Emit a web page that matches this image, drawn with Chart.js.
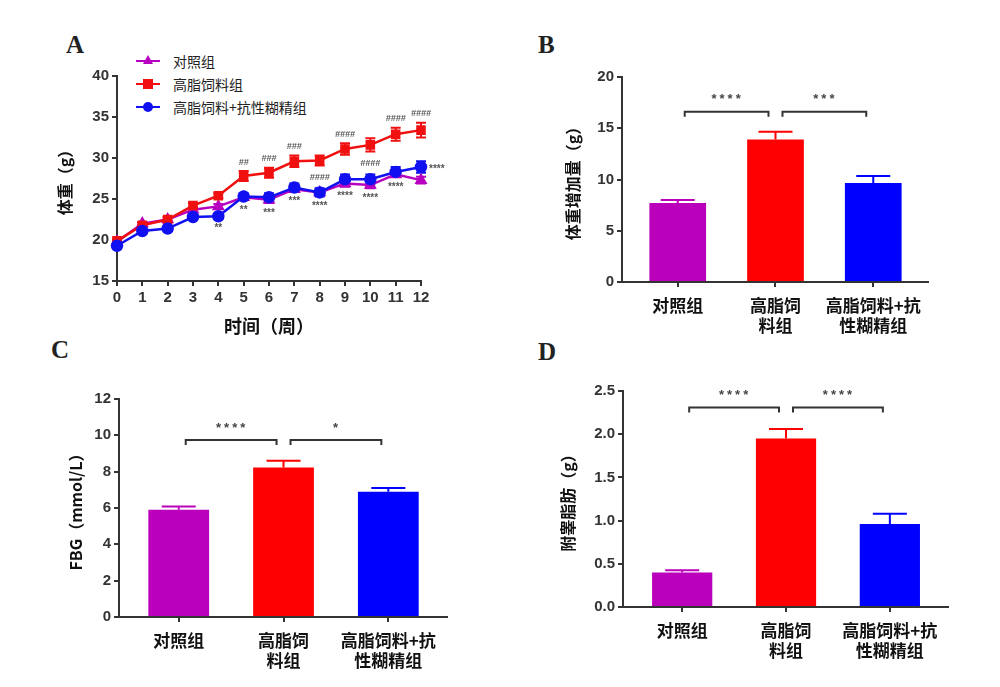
<!DOCTYPE html>
<html>
<head>
<meta charset="utf-8">
<script src="https://cdn.jsdelivr.net/npm/chart.js@4.4.1/dist/chart.umd.min.js"></script>
<style>
body { margin:0; background:#fff; width:1000px; height:687px; position:relative; overflow:hidden; font-family:"Noto Sans CJK SC", sans-serif; }
canvas { position:absolute; }
.letter { position:absolute; font-family:"Liberation Serif", serif; font-weight:bold; font-size:25px; color:#222; line-height:28px; }
.leg { position:absolute; left:136px; height:20px; font-size:14px; color:#222; line-height:20px; }
.leg .ln { position:absolute; left:0; top:9px; width:24px; height:2px; }
.leg .mk { position:absolute; }
.leg .tx { position:absolute; left:37px; top:0; white-space:nowrap; }
</style>
</head>
<body>
<div class="letter" style="left:66px;top:31px">A</div>
<div class="letter" style="left:538px;top:31px">B</div>
<div class="letter" style="left:51px;top:336px">C</div>
<div class="letter" style="left:538px;top:338px">D</div>

<div class="leg" style="top:51px"><span class="ln" style="background:#b800c0"></span><span class="mk" style="left:7px;top:4px;width:0;height:0;border-left:5px solid transparent;border-right:5px solid transparent;border-bottom:9px solid #b800c0"></span><span class="tx">对照组</span></div>
<div class="leg" style="top:74px"><span class="ln" style="background:#f01010"></span><span class="mk" style="left:7px;top:5px;width:10px;height:10px;background:#f01010"></span><span class="tx">高脂饲料组</span></div>
<div class="leg" style="top:97px"><span class="ln" style="background:#1010f0"></span><span class="mk" style="left:7px;top:5px;width:10px;height:10px;border-radius:50%;background:#1010f0"></span><span class="tx">高脂饲料+抗性糊精组</span></div>

<canvas id="chartA" width="420" height="300" style="left:40px;top:40px"></canvas>
<canvas id="chartB" width="420" height="300" style="left:540px;top:50px"></canvas>
<canvas id="chartC" width="420" height="310" style="left:40px;top:370px"></canvas>
<canvas id="chartD" width="420" height="310" style="left:540px;top:370px"></canvas>

<script>
// panel A: body weight by week
const weeks = ['0','1','2','3','4','5','6','7','8','9','10','11','12'];
const controlWeight = [19.8, 22.0, 22.5, 23.7, 24.1, 25.2, 24.9, 26.2, 25.8, 26.9, 26.7, 28.0, 27.3];
const controlErr    = [0.2, 0.2, 0.2, 0.3, 0.3, 0.3, 0.4, 0.3, 0.4, 0.4, 0.4, 0.3, 0.4];
const hfdWeight     = [19.9, 21.8, 22.5, 24.2, 25.4, 27.8, 28.2, 29.6, 29.7, 31.1, 31.6, 32.9, 33.4];
const hfdErr        = [0.2, 0.3, 0.3, 0.3, 0.3, 0.6, 0.6, 0.7, 0.6, 0.7, 0.8, 0.8, 0.9];
const rsWeight      = [19.3, 21.1, 21.4, 22.8, 22.9, 25.3, 25.2, 26.4, 25.8, 27.4, 27.4, 28.3, 28.9];
const rsErr         = [0.3, 0.3, 0.2, 0.3, 0.3, 0.4, 0.5, 0.5, 0.5, 0.6, 0.6, 0.6, 0.7];

// significance marks in panel A
const hashWeeks = [5, 6, 7, 9, 11, 12];
const hashLabels = ['##', '###', '###', '####', '####', '####'];
const hashBlueWeeks = [8, 10];
const hashBlueLabels = ['####', '####'];
const starWeeks = [4, 5, 6, 7, 8, 9, 10, 11];
const starLabels = ['**', '**', '***', '***', '****', '****', '****', '****'];
const lastStar = '****';

// panels B, C, D
const groups = ['对照组', ['高脂饲', '料组'], ['高脂饲料+抗', '性糊精组']];
const groupColors = ['#bb00bb', '#ff0000', '#0000ff'];
const gainValues = [7.7, 13.9, 9.65];
const gainErr = [0.3, 0.75, 0.7];
const fbgValues = [5.9, 8.23, 6.9];
const fbgErr = [0.18, 0.37, 0.2];
const fatValues = [0.40, 1.95, 0.96];
const fatErr = [0.025, 0.11, 0.12];
const gainSig = [{from:0, to:1, y:16.6, label:'****'}, {from:1, to:2, y:16.6, label:'***'}];
const fbgSig = [{from:0, to:1, y:9.74, label:'****'}, {from:1, to:2, y:9.74, label:'*'}];
const fatSig = [{from:0, to:1, y:2.31, label:'****'}, {from:1, to:2, y:2.31, label:'****'}];

const axisColor = '#333';
const tickFont = {family:'Liberation Sans', weight:'bold', size:15};

// error bars from the dataset's "errors" array
const errorBars = {
    id: 'errorBars',
    beforeDatasetsDraw(chart) {
        const ctx = chart.ctx;
        const yScale = chart.scales.y;
        const isLine = chart.config.type === 'line';
        chart.data.datasets.forEach((ds, di) => {
            if (!ds.errors) return;
            const meta = chart.getDatasetMeta(di);
            meta.data.forEach((el, i) => {
                const v = isLine ? ds.data[i] : ds.data[i].y;
                const e = ds.errors[i];
                const top = yScale.getPixelForValue(v + e);
                const bottom = isLine ? yScale.getPixelForValue(v - e) : el.y;
                const cap = ds.capWidth || 10;
                ctx.save();
                ctx.strokeStyle = Array.isArray(ds.backgroundColor) ? ds.backgroundColor[i] : ds.borderColor;
                ctx.lineWidth = 2;
                ctx.beginPath();
                ctx.moveTo(el.x, bottom); ctx.lineTo(el.x, top);
                ctx.moveTo(el.x - cap / 2, top); ctx.lineTo(el.x + cap / 2, top);
                if (isLine) { ctx.moveTo(el.x - cap / 2, bottom); ctx.lineTo(el.x + cap / 2, bottom); }
                ctx.stroke();
                ctx.restore();
            });
        });
    }
};

// brackets with stars above bar pairs
const sigBrackets = {
    id: 'sigBrackets',
    afterDatasetsDraw(chart, args, opts) {
        if (!opts.items) return;
        const ctx = chart.ctx, x = chart.scales.x, y = chart.scales.y;
        opts.items.forEach(b => {
            const x1 = x.getPixelForValue(b.from) + 7;
            const x2 = x.getPixelForValue(b.to) - 7;
            const yy = y.getPixelForValue(b.y);
            ctx.save();
            ctx.strokeStyle = '#333';
            ctx.lineWidth = 2;
            ctx.beginPath();
            ctx.moveTo(x1, yy + 5); ctx.lineTo(x1, yy); ctx.lineTo(x2, yy); ctx.lineTo(x2, yy + 5);
            ctx.stroke();
            ctx.fillStyle = '#444';
            ctx.font = 'bold 13px "Liberation Sans"';
            ctx.letterSpacing = '3px';
            ctx.textAlign = 'center';
            ctx.textBaseline = 'middle';
            ctx.fillText(b.label, (x1 + x2) / 2 + 1, yy - 12);
            ctx.restore();
        });
    }
};

// ## and * marks in the weight chart
const weekMarks = {
    id: 'weekMarks',
    afterDatasetsDraw(chart) {
        const ctx = chart.ctx, x = chart.scales.x, y = chart.scales.y;
        ctx.save();
        ctx.fillStyle = '#555';
        ctx.font = 'italic bold 9px "Liberation Sans"';
        ctx.textAlign = 'center';
        ctx.textBaseline = 'middle';
        hashWeeks.forEach((w, i) => {
            ctx.fillText(hashLabels[i], x.getPixelForValue(w), y.getPixelForValue(hfdWeight[w] + hfdErr[w]) - 9);
        });
        hashBlueWeeks.forEach((w, i) => {
            ctx.fillText(hashBlueLabels[i], x.getPixelForValue(w), y.getPixelForValue(rsWeight[w] + rsErr[w]) - 11);
        });
        ctx.font = 'bold 10px "Liberation Sans"';
        starWeeks.forEach((w, i) => {
            const low = Math.min(controlWeight[w] - controlErr[w], rsWeight[w] - rsErr[w]);
            ctx.fillText(starLabels[i], x.getPixelForValue(w), y.getPixelForValue(low) + 10);
        });
        ctx.textAlign = 'left';
        ctx.fillText(lastStar, x.getPixelForValue(12) + 8, y.getPixelForValue(rsWeight[12]) + 2);
        ctx.restore();
    }
};

function yAxis(min, max, step, title, width, titlePad, fmt) {
    return {
        min: min, max: max,
        ticks: {stepSize: step, color: axisColor, font: tickFont, padding: 3,
                callback: fmt || (v => v)},
        grid: {display: true, drawOnChartArea: false, drawTicks: true, tickLength: 5, color: axisColor, lineWidth: 2},
        border: {display: true, color: axisColor, width: 2},
        title: {display: true, text: title, color: '#111',
                font: {family: 'Noto Sans CJK SC', weight: 'bold', size: 16}, padding: {top: titlePad, bottom: 0}},
        afterFit: s => { s.width = width; }
    };
}

new Chart(document.getElementById('chartA'), {
    type: 'line',
    data: {
        labels: weeks,
        datasets: [
            {label: '对照组', data: controlWeight, errors: controlErr, borderColor: '#b800c0', backgroundColor: '#b800c0',
             pointStyle: 'triangle', pointRadius: 5, borderWidth: 2.5, order: 3},
            {label: '高脂饲料组', data: hfdWeight, errors: hfdErr, borderColor: '#f01010', backgroundColor: '#f01010',
             pointStyle: 'rect', pointRadius: 5, borderWidth: 2.5, order: 2},
            {label: '高脂饲料+抗性糊精组', data: rsWeight, errors: rsErr, borderColor: '#1010f0', backgroundColor: '#1010f0',
             pointStyle: 'circle', pointRadius: 5, borderWidth: 2.5, order: 1}
        ]
    },
    options: {
        responsive: false, animation: false,
        layout: {padding: {top: 36, right: 39, left: 0, bottom: 0}},
        plugins: {legend: {display: false}, tooltip: {enabled: false}},
        scales: {
            x: {
                ticks: {color: axisColor, font: tickFont, padding: 3, maxRotation: 0, autoSkip: false},
                grid: {display: true, drawOnChartArea: false, drawTicks: true, tickLength: 5, color: axisColor, lineWidth: 2},
                border: {display: true, color: axisColor, width: 2},
                title: {display: true, text: '时间（周）', color: '#111',
                        font: {family: 'Noto Sans CJK SC', weight: 'bold', size: 18}, padding: {top: 0, bottom: 3}},
                afterFit: s => { s.height = 59; }
            },
            y: yAxis(15, 40, 5, '体重（g）', 77, 15)
        }
    },
    plugins: [errorBars, weekMarks]
});

// group bars sit on a linear x axis so the axis can run past the outer bars
function barChart(id, values, errs, sig, yCfg, pad, xHeight) {
    new Chart(document.getElementById(id), {
        type: 'bar',
        data: {
            datasets: [{data: values.map((v, i) => ({x: i, y: v})), errors: errs, capWidth: 34,
                         backgroundColor: groupColors, borderWidth: 0,
                         categoryPercentage: 1, barPercentage: 0.58}]
        },
        options: {
            responsive: false, animation: false,
            layout: {padding: pad},
            plugins: {legend: {display: false}, tooltip: {enabled: false}, sigBrackets: {items: sig}},
            scales: {
                x: {
                    type: 'linear', min: -0.57, max: 2.56, offset: false,
                    ticks: {stepSize: 1, includeBounds: false, color: '#111',
                            font: {family: 'Noto Sans CJK SC', weight: 'bold', size: 17, lineHeight: 1.2},
                            padding: 8, maxRotation: 0, autoSkip: false,
                            callback: v => Number.isInteger(v) ? groups[v] : ''},
                    grid: {display: true, offset: false, drawOnChartArea: false, drawTicks: true, tickLength: 5, color: axisColor, lineWidth: 2},
                    border: {display: true, color: axisColor, width: 2},
                    afterFit: s => { s.height = xHeight; }
                },
                y: yCfg
            }
        },
        plugins: [errorBars, sigBrackets]
    });
}

barChart('chartB', gainValues, gainErr, gainSig,
    yAxis(0, 20, 5, '体重增加量（g）', 82, 23), {top: 27, right: 32, left: 0, bottom: 0}, 68);
barChart('chartC', fbgValues, fbgErr, fbgSig,
    yAxis(0, 12, 2, 'FBG（mmol/L）', 79, 26), {top: 29, right: 13, left: 0, bottom: 0}, 63);
barChart('chartD', fatValues, fatErr, fatSig,
    yAxis(0, 2.5, 0.5, '附睾脂肪（g）', 83, 18, v => v.toFixed(1)), {top: 21, right: 12, left: 0, bottom: 0}, 73);
</script>
</body>
</html>
